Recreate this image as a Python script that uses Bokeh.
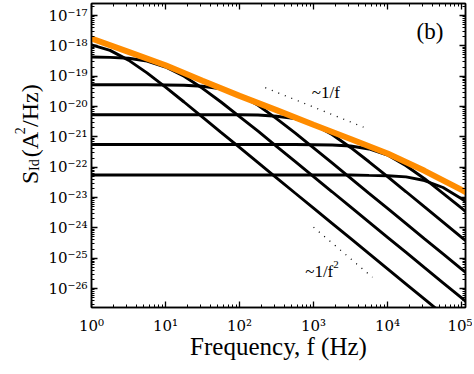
from math import pi
from bokeh.plotting import figure
from bokeh.layouts import row
from bokeh.models import (Range1d, LogAxis, FixedTicker, Label, CustomJSTickFormatter)
from bokeh.embed import file_html
from bokeh.resources import INLINE

# ---------------- data ----------------
freq = [1, 1.78, 3.16, 5.62, 10, 17.8, 31.6, 56.2, 100, 178, 316, 562,
        1e3, 1.78e3, 3.16e3, 5.62e3, 1e4, 1.78e4, 3.16e4, 5.62e4, 1e5, 1.26e5]

s_c1 = [1.07e-18, 7.1e-19, 3.39e-19, 1.29e-19, 4.37e-20, 1.41e-20, 4.47e-21, 1.41e-21,
        4.47e-22, 1.41e-22, 4.47e-23, 1.41e-23, 4.47e-24, 1.41e-24, 4.47e-25, 1.41e-25,
        4.47e-26, 1.41e-26, 4.47e-27, 1.41e-27, 4.47e-28, 2.8e-28]
s_c2 = [4.27e-19, 4.17e-19, 3.89e-19, 3.16e-19, 2.00e-19, 1.00e-19, 3.98e-20, 1.41e-20,
        4.68e-21, 1.55e-21, 4.90e-22, 1.55e-22, 4.90e-23, 1.55e-23, 4.90e-24, 1.55e-24,
        4.90e-25, 1.55e-25, 4.90e-26, 1.55e-26, 4.90e-27, 3.09e-27]
s_c3 = [5.25e-20, 5.25e-20, 5.25e-20, 5.25e-20, 5.13e-20, 5.01e-20, 4.68e-20, 3.80e-20,
        2.40e-20, 1.10e-20, 3.98e-21, 1.35e-21, 4.37e-22, 1.38e-22, 4.37e-23, 1.38e-23,
        4.37e-24, 1.38e-24, 4.37e-25, 1.38e-25, 4.37e-26, 2.75e-26]
s_c4 = [5.37e-21, 5.37e-21, 5.37e-21, 5.37e-21, 5.37e-21, 5.37e-21, 5.37e-21, 5.37e-21,
        5.37e-21, 5.25e-21, 4.79e-21, 3.98e-21, 2.57e-21, 1.20e-21, 4.47e-22, 1.51e-22,
        4.90e-23, 1.55e-23, 4.90e-24, 1.55e-24, 4.90e-25, 3.09e-25]
s_c5 = [5.62e-22, 5.62e-22, 5.62e-22, 5.62e-22, 5.62e-22, 5.62e-22, 5.62e-22, 5.62e-22,
        5.62e-22, 5.62e-22, 5.62e-22, 5.62e-22, 5.50e-22, 5.37e-22, 5.01e-22, 3.98e-22,
        2.51e-22, 1.12e-22, 4.17e-23, 1.38e-23, 4.47e-24, 2.82e-24]
s_c6 = [5.50e-23, 5.50e-23, 5.50e-23, 5.50e-23, 5.50e-23, 5.50e-23, 5.50e-23, 5.50e-23,
        5.50e-23, 5.50e-23, 5.50e-23, 5.50e-23, 5.50e-23, 5.50e-23, 5.50e-23, 5.37e-23,
        5.25e-23, 4.79e-23, 3.63e-23, 2.14e-23, 9.12e-24, 6.17e-24]

freq_total = [1, 3.16, 10, 31.6, 100, 316, 1e3, 3.16e3, 1e4, 3.16e4, 1e5, 1.26e5]
s_total = [1.74e-18, 6.31e-19, 2.29e-19, 7.08e-20, 2.24e-20, 7.59e-21, 2.51e-21,
           8.51e-22, 2.82e-22, 7.59e-23, 1.78e-23, 1.32e-23]

guide_1f_x = [223, 4730]
guide_1f_y = [4.17e-20, 2.09e-21]
guide_1f2_x = [1000, 6250]
guide_1f2_y = [1.05e-24, 2.34e-26]

xtick_vals = [1, 10, 100, 1000, 10000, 100000]
xtick_exp = ["0", "1", "2", "3", "4", "5"]
ytick_vals = [1e-17, 1e-18, 1e-19, 1e-20, 1e-21, 1e-22, 1e-23, 1e-24, 1e-25, 1e-26]
ytick_exp = ["-17", "-18", "-19", "-20", "-21", "-22", "-23", "-24", "-25", "-26"]

# ---------------- main figure ----------------
FONT = "Liberation Serif"
TICKFONT = "DejaVu Serif"
X0, X1 = 1.0, 1.13e5
Y0, Y1 = 2.37e-27, 2.49e-17
LEFT_W = 45
H = 372

p = figure(width=472 - LEFT_W, height=H, x_axis_type="log", y_axis_type="log",
           x_range=Range1d(X0, X1), y_range=Range1d(Y0, Y1),
           output_backend="svg", toolbar_location=None,
           min_border_left=89 - LEFT_W, min_border_right=7, min_border_top=3, min_border_bottom=65)
p.grid.visible = False
p.outline_line_color = "black"
p.outline_line_width = 1.5
p.background_fill_color = "white"
p.border_fill_color = "white"

x_minor = [m * 10.0 ** e for e in range(0, 6) for m in range(2, 10)]
y_minor = [m * 10.0 ** e for e in range(-27, -16) for m in range(2, 10)]

SUP = str.maketrans("-0123456789", "\u207b\u2070\u00b9\u00b2\u00b3\u2074\u2075\u2076\u2077\u2078\u2079")
JS = """
for (let i = 0; i < vals.length; i++) {
  if (Math.abs(Math.log10(vals[i]) - Math.log10(tick)) < 1e-6) { return labs[i]; }
}
return '';
"""


def style_axis(ax, major, minor, labels=None):
    ax.ticker = FixedTicker(ticks=major, minor_ticks=minor)
    if labels is None:
        ax.formatter = CustomJSTickFormatter(code="return '';")
        ax.major_label_standoff = 0
    else:
        ax.formatter = CustomJSTickFormatter(args=dict(vals=major, labs=labels), code=JS)
        ax.major_label_text_font = TICKFONT
        ax.major_label_text_font_size = "15px"
        ax.major_label_text_color = "black"
    ax.major_tick_in = 6
    ax.major_tick_out = 0
    ax.minor_tick_in = 3
    ax.minor_tick_out = 0
    ax.major_tick_line_width = 1.3
    ax.minor_tick_line_width = 1
    ax.axis_line_width = 1.5
    ax.axis_line_color = "black"
    ax.major_tick_line_color = "black"
    ax.minor_tick_line_color = "black"


xlabels = ["10" + e.translate(SUP) for e in xtick_exp]
ylabels = ["10" + e.translate(SUP) for e in ytick_exp]

style_axis(p.xaxis[0], xtick_vals, x_minor, xlabels)
p.xaxis[0].major_label_standoff = 9
p.xaxis[0].axis_label = "Frequency, f (Hz)"
p.xaxis[0].axis_label_text_font = FONT
p.xaxis[0].axis_label_text_font_style = "normal"
p.xaxis[0].axis_label_text_font_size = "25px"
p.xaxis[0].axis_label_text_color = "black"
p.xaxis[0].axis_label_standoff = -5

style_axis(p.yaxis[0], ytick_vals, y_minor, ylabels)
p.yaxis[0].major_label_standoff = 4

top_ax = LogAxis()
style_axis(top_ax, xtick_vals, x_minor)
p.add_layout(top_ax, "above")
right_ax = LogAxis()
style_axis(right_ax, ytick_vals, y_minor)
p.add_layout(right_ax, "right")

# ---------------- curves ----------------
for s in [s_c1, s_c2, s_c3, s_c4, s_c5, s_c6]:
    p.line(freq, s, line_color="black", line_width=2.9)
p.line(freq_total, s_total, line_color="#FF8C00", line_width=6)

p.line(guide_1f_x, guide_1f_y, line_color="black", line_width=1.3, line_dash="1 6")
p.line(guide_1f2_x, guide_1f2_y, line_color="black", line_width=1.3, line_dash="1 6")

# ---------------- annotations ----------------
p.add_layout(Label(x=2.47e4, y=2.98e-18, text="(b)", text_font=FONT, text_font_size="23px",
                   text_baseline="alphabetic", text_color="black"))
p.add_layout(Label(x=949, y=2.88e-20, text="~1/f", text_font=FONT, text_font_size="17px",
                   text_baseline="alphabetic", text_color="black"))
p.add_layout(Label(x=771, y=3.62e-26, text="~1/f", text_font=FONT, text_font_size="17px",
                   text_baseline="alphabetic", text_color="black"))
p.add_layout(Label(x=771, y=3.62e-26, x_offset=28, y_offset=7, text="2", text_font=FONT,
                   text_font_size="11px", text_baseline="alphabetic", text_color="black"))

# ---------------- y axis title strip (rotated, with sub/superscripts) ----------------
lf = figure(width=LEFT_W, height=H, x_range=Range1d(0, LEFT_W), y_range=Range1d(0, H),
            output_backend="svg", toolbar_location=None,
            x_axis_location=None, y_axis_location=None, min_border=0)
lf.grid.visible = False
lf.outline_line_color = None
lf.background_fill_color = "white"
lf.border_fill_color = "white"


def ylab(text, x, y, size):
    lf.add_layout(Label(x=x, y=y, text=text, angle=pi / 2, text_align="left",
                        text_baseline="alphabetic", text_font=FONT,
                        text_font_size=size, text_color="black"))


ylab("S", 29, H - 221, "24px")
ylab("Id", 34, H - 205, "14px")
ylab("(A", 29, H - 188, "24px")
ylab("2", 19, H - 160, "14px")
ylab("/Hz)", 29, H - 151, "24px")

layout = row(lf, p, spacing=0)
open("out.html", "w").write(file_html(layout, INLINE))
